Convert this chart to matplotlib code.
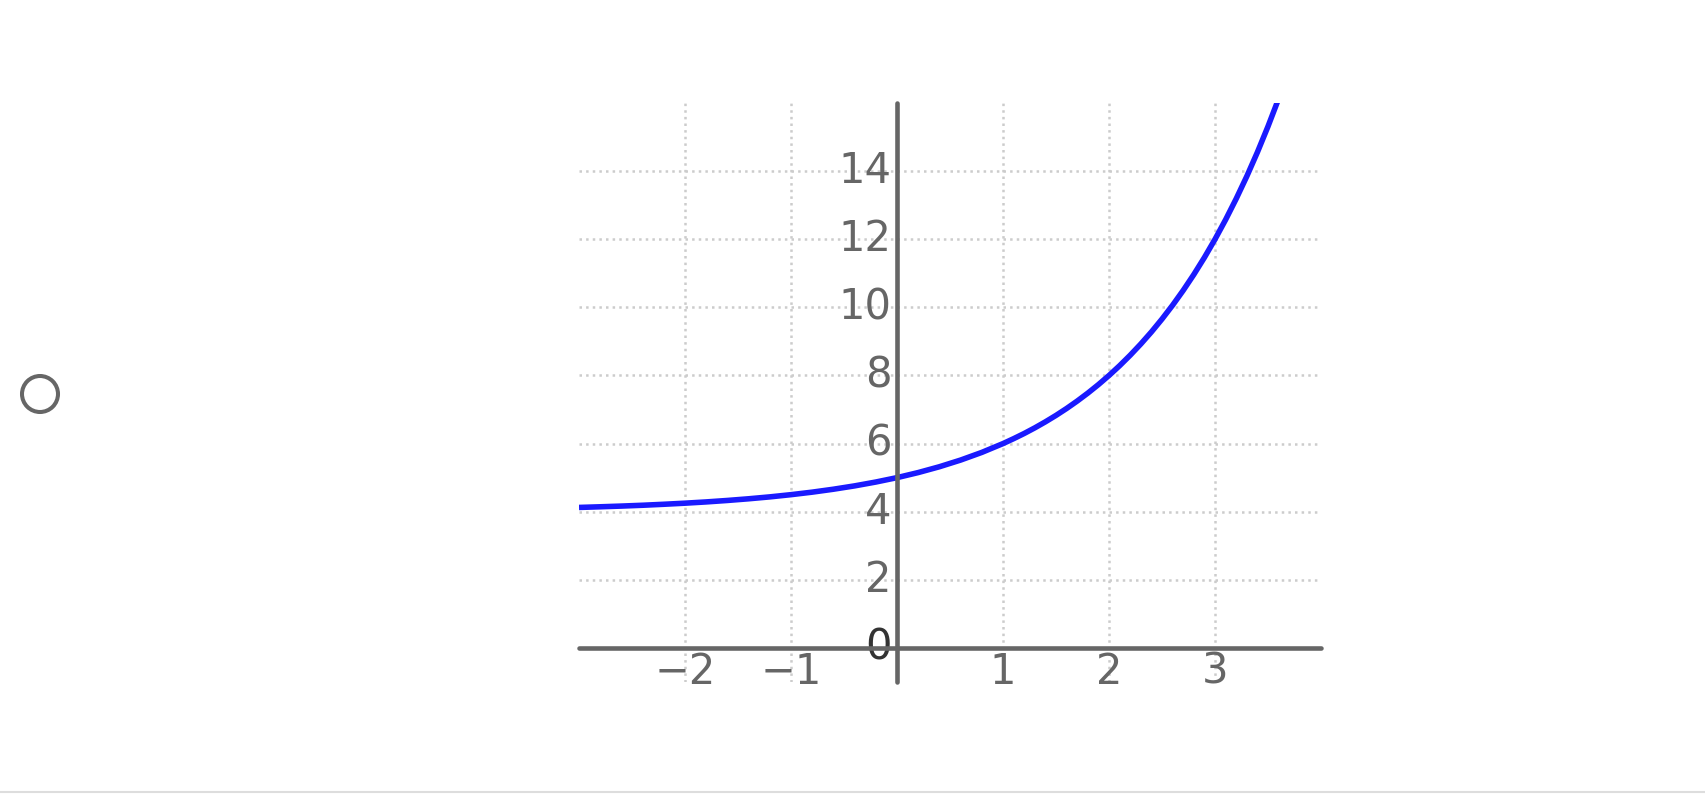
import matplotlib.pyplot as plt
from matplotlib.patches import Circle
from matplotlib.lines import Line2D

# points
x_vals = [-3.0, -2.8, -2.6, -2.4, -2.2, -2.0, -1.8, -1.6, -1.4, -1.2, -1.0,
          -0.8, -0.6, -0.4, -0.2, 0.0, 0.2, 0.4, 0.6, 0.8, 1.0, 1.1, 1.2,
          1.3, 1.4, 1.5, 1.6, 1.7, 1.8, 1.9, 2.0, 2.1, 2.2, 2.3, 2.4, 2.5,
          2.6, 2.7, 2.8, 2.9, 3.0, 3.1, 3.2, 3.3, 3.4, 3.5, 3.6]
y_vals = [4.125, 4.144, 4.165, 4.189, 4.218, 4.25, 4.287, 4.330, 4.379,
          4.435, 4.5, 4.574, 4.660, 4.758, 4.871, 5.0, 5.149, 5.320, 5.516,
          5.741, 6.0, 6.144, 6.297, 6.462, 6.639, 6.828, 7.031, 7.249, 7.482,
          7.732, 8.0, 8.287, 8.595, 8.925, 9.278, 9.657, 10.063, 10.498,
          10.964, 11.464, 12.0, 12.574, 13.190, 13.849, 14.556, 15.314, 16.126]

x_ticks = [-2, -1, 1, 2, 3]
y_ticks = [0, 2, 4, 6, 8, 10, 12, 14]

fig = plt.figure(figsize=(17.05, 8.07), dpi=100)
ax = fig.add_axes([0.3396, 0.1549, 0.4352, 0.7175])

ax.plot(x_vals, y_vals, color='#1a1aff', lw=4.0, solid_capstyle='butt', zorder=3)

ax.set_xlim(-3, 4)
ax.set_ylim(-1, 16)
ax.set_xticks(x_ticks)
ax.set_yticks(y_ticks)
ax.set_xticklabels([f"{t}".replace('-', '\u2212') for t in x_ticks])
ax.set_yticklabels([str(t) for t in y_ticks])

ax.grid(True, linestyle=':', color='#cccccc', lw=1.8, zorder=0)
ax.set_axisbelow(True)

for side in ['top', 'right']:
    ax.spines[side].set_visible(False)
for side in ['left', 'bottom']:
    ax.spines[side].set_position('zero')
    ax.spines[side].set_color('#666666')
    ax.spines[side].set_linewidth(3.3)
    ax.spines[side].set_capstyle('round')
    ax.spines[side].set_zorder(4)

ax.tick_params(axis='both', length=0, labelsize=30, labelcolor='#666666')
ax.tick_params(axis='x', pad=2)
ax.tick_params(axis='y', pad=4)
for lbl in ax.get_yticklabels():
    lbl.set_verticalalignment('center')
    if lbl.get_text() == '0':
        lbl.set_color('#333333')

# radio button and bottom rule of the page
fig.add_artist(Circle((40, 807 - 394), 18, transform=None, fill=False,
                      edgecolor='#666666', lw=2.9))
fig.add_artist(Line2D([0, 1], [15 / 807, 15 / 807], transform=fig.transFigure,
                      color='#dddddd', lw=1.5))

fig.savefig('out.png', dpi=100)
